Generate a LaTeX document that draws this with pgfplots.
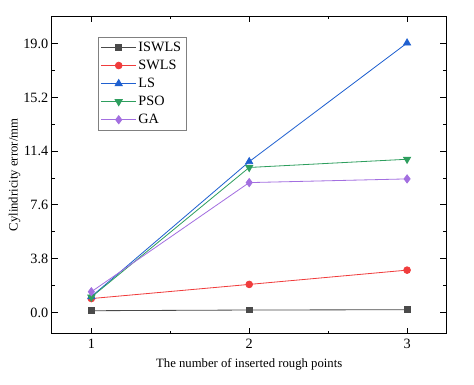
\documentclass[border=0pt]{standalone}
\usepackage{fontspec}
\setmainfont{Liberation Serif}
\usepackage{pgfplots}
\pgfplotsset{compat=1.18}
\definecolor{cgray}{HTML}{4A4A4A}
\definecolor{cred}{HTML}{F03C3C}
\definecolor{cblue}{HTML}{1F60D0}
\definecolor{cgreen}{HTML}{2E9E5E}
\definecolor{cpurple}{HTML}{A36FE0}
\begin{document}
\begin{tikzpicture}[x=1pt,y=1pt]
\begin{axis}[
  scale only axis,
  width=388pt, height=312pt,
  xmin=0.75, xmax=3.25,
  ymin=-1.5, ymax=20.94,
  xtick={1,2,3},
  minor xtick={1.5,2.5},
  ytick={0,3.8,7.6,11.4,15.2,19.0},
  minor ytick={1.9,5.7,9.5,13.3,17.1},
  yticklabel style={/pgf/number format/.cd,fixed,fixed zerofill,precision=1},
  /pgf/number format/assume math mode=true,
  tick align=inside,
  major tick length=6pt, minor tick length=3pt,
  tick style={black, line width=0.9pt},
  axis line style={black, line width=1pt},
  ticklabel style={font=\fontsize{14}{16}\selectfont},
  xticklabel style={yshift=-2pt},
  xlabel={The number of inserted rough points},
  ylabel={Cylindricity error/mm},
  label style={font=\fontsize{12.5}{15}\selectfont},
  xlabel style={yshift=-3pt},
  ylabel style={yshift=-4pt},
  legend style={at={(0.116,0.936)}, anchor=north west, draw=gray, line width=0.6pt,
    font=\fontsize{14}{16}\selectfont, row sep=3pt, inner xsep=3pt, inner ysep=3pt},
  legend cell align=left,
  legend image code/.code={\draw[mark repeat=2,mark phase=2] plot coordinates {(0pt,0pt) (17pt,0pt) (34pt,0pt)};},
  every axis plot/.append style={line width=0.8pt, mark size=3.3pt},
]
\addplot[cgray, mark=square*, mark options={fill=cgray, mark size=2.8pt}] coordinates {(1,0.12) (2,0.17) (3,0.19)};
\addlegendentry{ISWLS}
\addplot[cred, mark=*, mark options={fill=cred}] coordinates {(1,0.98) (2,1.98) (3,2.99)};
\addlegendentry{SWLS}
\addplot[cblue, mark=triangle*, mark options={fill=cblue, mark size=4pt}] coordinates {(1,1.12) (2,10.66) (3,19.05)};
\addlegendentry{LS}
\addplot[cgreen, mark=triangle*, mark options={fill=cgreen, rotate=180, mark size=4pt}] coordinates {(1,1.08) (2,10.25) (3,10.83)};
\addlegendentry{PSO}
\addplot[cpurple, mark=diamond*, mark options={fill=cpurple, mark size=4pt}] coordinates {(1,1.46) (2,9.18) (3,9.44)};
\addlegendentry{GA}
\end{axis}
\path (current axis.south west) ++(-51pt,-50pt) coordinate (bl);
\path (current axis.north east) ++(27pt,16pt) coordinate (tr);
\useasboundingbox (bl) rectangle (tr);
\end{tikzpicture}
\end{document}
